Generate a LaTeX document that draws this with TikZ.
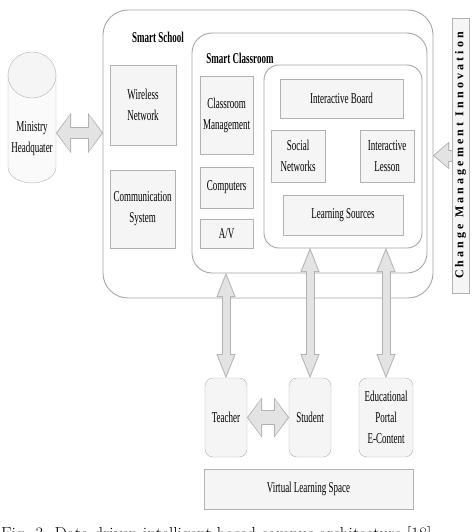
\documentclass[tikz,border=0pt]{standalone}
\usepackage{fontspec}
\usetikzlibrary{arrows.meta}
\newfontfamily\condserif[FakeStretch=0.6]{Liberation Serif}
\newfontfamily\spacedserif[LetterSpace=26]{Liberation Serif}

\tikzset{
  box/.style={draw=gray!60, fill=gray!8, outer sep=0pt, inner sep=1pt, align=center,
    font=\condserif\fontsize{15}{21}\selectfont},
  softbox/.style={box, rounded corners=8pt},
  frame/.style={draw=gray!70, line width=0.9pt, fill=white, outer sep=0pt},
  heading/.style={font=\condserif\bfseries\fontsize{15}{18}\selectfont, inner sep=0pt},
  thinarrow/.style={draw=gray!22, line width=7pt,
    {Triangle[length=20.3pt,width=16.2pt,line width=0.01pt]}-{Triangle[length=20.3pt,width=16.2pt,line width=0.01pt]},
    shorten <=2.7pt, shorten >=2.7pt,
    preaction={draw=gray!60, line width=9pt, shorten <=0pt, shorten >=0pt,
      {Triangle[length=24pt,width=19pt,line width=0.01pt]}-{Triangle[length=24pt,width=19pt,line width=0.01pt]}}},
  broadarrow/.style={draw=gray!22, line width=#1-2pt,
    {Triangle[length=12.7pt,width=35.3pt,line width=0.01pt]}-{Triangle[length=12.7pt,width=35.3pt,line width=0.01pt]},
    shorten <=1.3pt, shorten >=1.3pt,
    preaction={draw=gray!60, line width=#1, shorten <=0pt, shorten >=0pt,
      {Triangle[length=15pt,width=40pt,line width=0.01pt]}-{Triangle[length=15pt,width=40pt,line width=0.01pt]}}},
  inarrow/.style={draw=gray!22, line width=10pt,
    -{Triangle[length=13.4pt,width=23.3pt,line width=0.01pt]},
    shorten >=1.6pt,
    preaction={draw=gray!60, line width=12pt, shorten >=0pt,
      -{Triangle[length=16pt,width=27pt,line width=0.01pt]}}}
}

\begin{document}
\begin{tikzpicture}[x=1pt,y=-1pt]
  \useasboundingbox (0,0) rectangle (474,532);
  \clip (0,0) rectangle (474,532);

  % Ministry (cylinder)
  \draw[draw=gray!60, fill=gray!4] (8,75) -- (8,167) arc (180:0:24 and 16) -- (56,75);
  \draw[draw=gray!60, fill=gray!8] (32,75) ellipse (24 and 23);
  \node[outer sep=0pt, inner sep=0pt, minimum width=48pt, align=center,
    font=\condserif\fontsize{15}{21}\selectfont] (ministry) at (32,139) {Ministry\\Headquater};

  % Smart School
  \node[frame, rounded corners=25pt, minimum width=330pt, minimum height=288pt] (school) at (268,154) {};
  \node[heading] (schoollbl) at (158,37) {Smart School};
  \node[box, minimum width=66pt, minimum height=80pt] (wireless) at (143,105) {Wireless\\Network};
  \node[box, minimum width=65pt, minimum height=78pt] (comm) at (142.5,209) {Communication\\System};

  % Smart Classroom
  \node[frame, rounded corners=20pt, minimum width=235pt, minimum height=240pt] (classroom) at (309.5,153) {};
  \node[heading] (classlbl) at (240,58) {Smart Classroom};
  \node[box, minimum width=53pt, minimum height=78pt] (mgmt) at (226.5,115) {Classroom\\Management};
  \node[box, minimum width=53pt, minimum height=41pt] (computers) at (226.5,187.5) {Computers};
  \node[box, minimum width=53pt, minimum height=29pt] (av) at (226.5,233.5) {A/V};

  % learning area
  \node[frame, rounded corners=15pt, minimum width=158pt, minimum height=183pt] (inner) at (343,156.5) {};
  \node[box, minimum width=123pt, minimum height=39pt] (board) at (341.5,98.5) {Interactive Board};
  \node[box, minimum width=54pt, minimum height=52pt] (social) at (298,156) {Social\\Networks};
  \node[box, minimum width=54pt, minimum height=52pt] (lesson) at (387,156) {Interactive\\Lesson};
  \node[box, minimum width=120pt, minimum height=40pt] (sources) at (343,215) {Learning Sources};

  % Change management
  \node[box, minimum width=17pt, minimum height=275pt] (change) at (460.5,155.5) {};
  \node[rotate=90, inner sep=0pt, font=\spacedserif\bfseries\fontsize{12}{12}\selectfont] (changetxt) at (change.center)
    {Change Management Innovation};

  % Virtual learning space
  \node[softbox, minimum width=42pt, minimum height=79pt] (teacher) at (226,417.5) {Teacher};
  \node[softbox, minimum width=42pt, minimum height=79pt] (student) at (310,417.5) {Student};
  \node[softbox, minimum width=54pt, minimum height=79pt] (portal) at (386,417.5) {Educational\\Portal\\E-Content};
  \node[box, minimum width=209pt, minimum height=40pt] (virtual) at (308.5,489) {Virtual Learning Space};

  % Arrows
  \draw[broadarrow=12pt] ([yshift=6pt]ministry.east) -- ([yshift=6pt]ministry.east -| school.west);
  \draw[inarrow] (change.west) -- (change.west -| school.east);
  \draw[thinarrow] (teacher.north) -- (teacher.north |- classroom.south);
  \draw[thinarrow] (student.north) -- (student.north |- inner.south);
  \draw[thinarrow] (portal.north) -- (portal.north |- inner.south);
  \draw[broadarrow=15pt] (teacher.east) -- (student.west);

  % Caption
  \node[anchor=base west, inner sep=0pt, font=\fontsize{17.4}{17.4}\selectfont] (caption) at (1,539)
    {Fig. 3. Data driven intelligent based campus architecture [18]};
\end{tikzpicture}
\end{document}
